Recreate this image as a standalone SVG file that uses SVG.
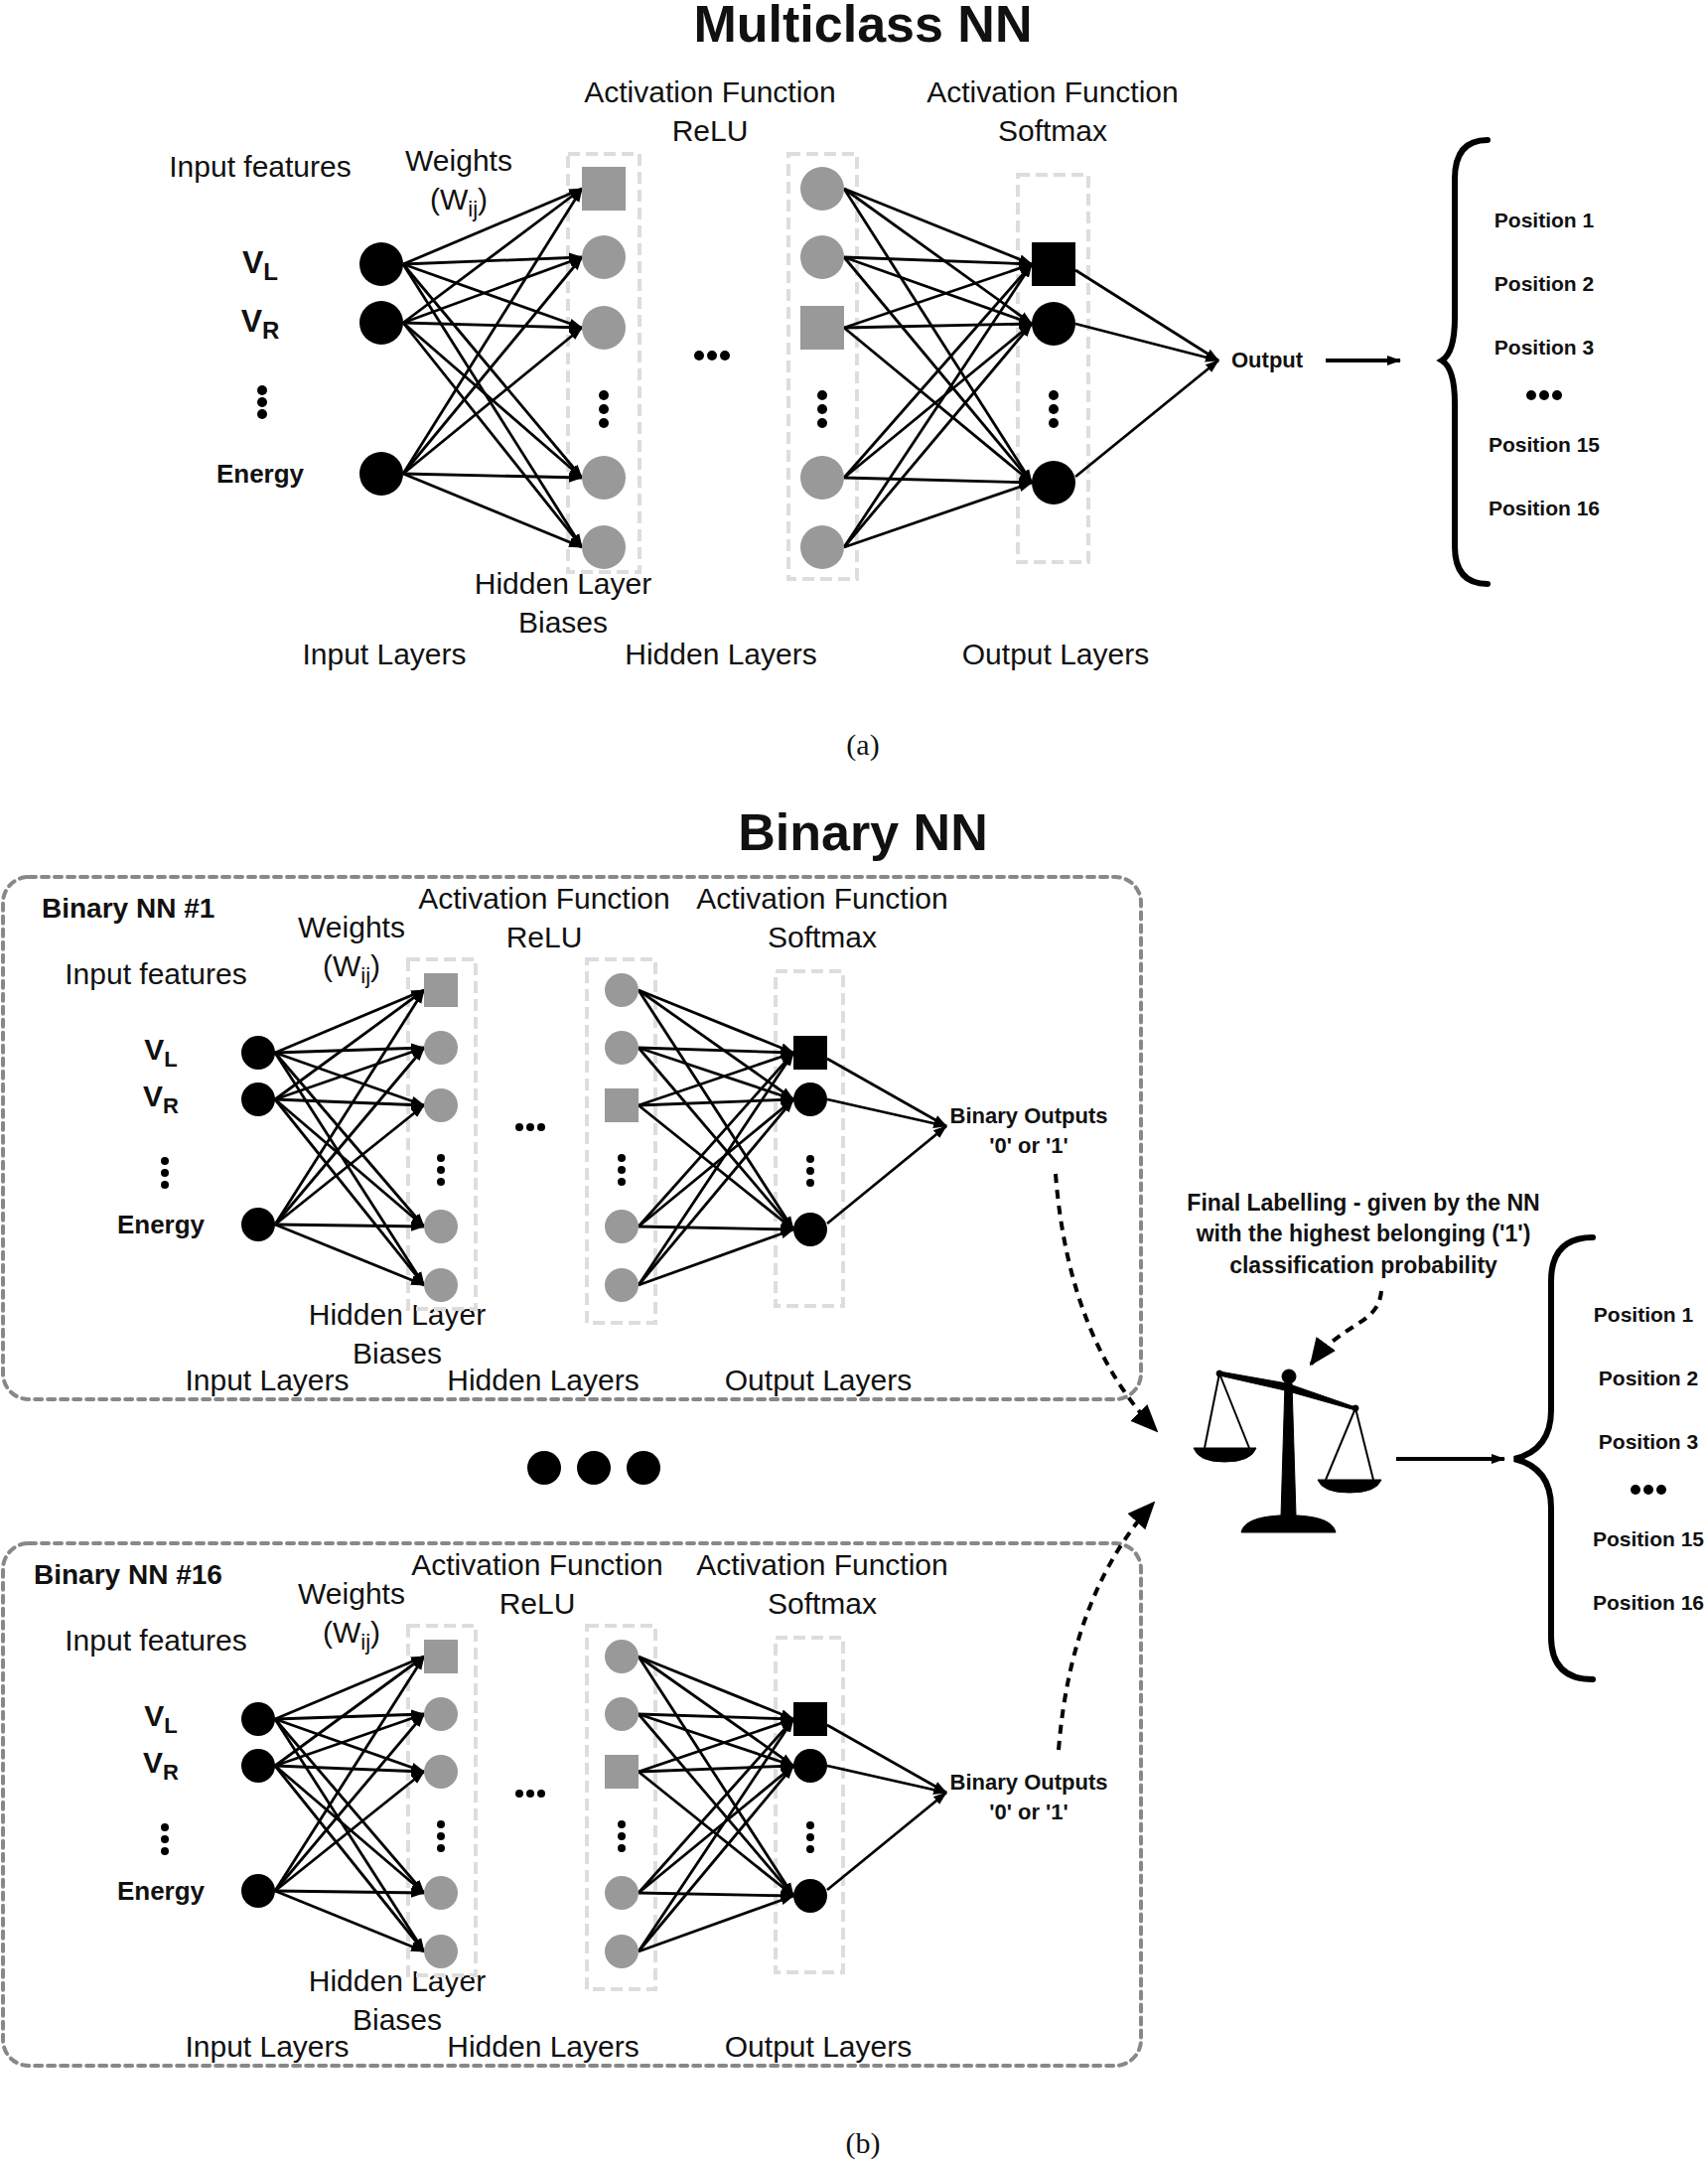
<svg xmlns="http://www.w3.org/2000/svg" xmlns:xlink="http://www.w3.org/1999/xlink" width="1720" height="2179" viewBox="0 0 1720 2179">
<style>
text{font-family:"Liberation Sans",Arial,sans-serif;fill:#111}
.t{font-size:30px;text-anchor:middle}
.b{font-weight:bold;text-anchor:middle}
.ttl{font-size:52px;font-weight:bold;text-anchor:middle}
.in{fill:#000}
.hd{fill:#999}
.box{fill:none;stroke:#ddd;stroke-width:4;stroke-dasharray:12 6}
.bbox{fill:none;stroke:#888;stroke-width:4;stroke-dasharray:7 6;stroke-linecap:round}
.c line,.c path.s{stroke:#000;stroke-width:2.8;fill:none;marker-end:url(#ah)}
.d{fill:none;stroke:#000;stroke-width:4;stroke-dasharray:9 7;marker-end:url(#big)}
.br{fill:none;stroke:#000;stroke-width:6;stroke-linecap:round}
</style>
<defs>
<marker id="ah" markerUnits="userSpaceOnUse" markerWidth="14" markerHeight="12" refX="13" refY="6" orient="auto"><path d="M0,1 L14,6 L0,11 Z" fill="#000"/></marker>
<marker id="big" markerUnits="userSpaceOnUse" markerWidth="28" markerHeight="28" refX="26" refY="14" orient="auto"><path d="M0,2 L28,14 L0,26 Z" fill="#000"/></marker>
</defs>
<rect width="1720" height="2179" fill="#fff"/>

<!-- ===== (a) Multiclass ===== -->
<text class="ttl" x="869" y="42">Multiclass NN</text>
<g id="labels-a">
<text class="t" x="715" y="103">Activation Function</text>
<text class="t" x="715" y="142">ReLU</text>
<text class="t" x="1060" y="103">Activation Function</text>
<text class="t" x="1060" y="142">Softmax</text>
<text class="t" x="262" y="178">Input features</text>
<text class="t" x="462" y="172">Weights</text>
<text class="t" x="462" y="211">(W<tspan font-size="22" dy="7">ij</tspan><tspan dy="-7">)</tspan></text>
<text class="b" x="262" y="275" font-size="32">V<tspan font-size="24" dy="7">L</tspan></text>
<text class="b" x="262" y="334" font-size="32">V<tspan font-size="24" dy="7">R</tspan></text>
<text class="b" x="262" y="486" font-size="26">Energy</text>
<text class="t" x="567" y="598">Hidden Layer</text>
<text class="t" x="567" y="637">Biases</text>
<text class="t" x="387" y="669">Input Layers</text>
<text class="t" x="726" y="669">Hidden Layers</text>
<text class="t" x="1063" y="669">Output Layers</text>
<text x="1240" y="370" font-size="22" font-weight="bold">Output</text>
<text x="869" y="760" font-size="30" text-anchor="middle" style="font-family:'Liberation Serif',serif">(a)</text>
</g>
<g fill="#000">
<circle cx="264" cy="393" r="5"/><circle cx="264" cy="405" r="5"/><circle cx="264" cy="417" r="5"/>
<circle cx="608" cy="398" r="5"/><circle cx="608" cy="412" r="5"/><circle cx="608" cy="426" r="5"/>
<circle cx="828" cy="398" r="5"/><circle cx="828" cy="412" r="5"/><circle cx="828" cy="426" r="5"/>
<circle cx="1061" cy="398" r="5"/><circle cx="1061" cy="412" r="5"/><circle cx="1061" cy="426" r="5"/>
<circle cx="704" cy="358" r="5"/><circle cx="717" cy="358" r="5"/><circle cx="730" cy="358" r="5"/>
</g>
<rect class="box" x="572" y="155" width="72" height="421"/>
<rect class="box" x="794" y="155" width="69" height="428"/>
<rect class="box" x="1025" y="176" width="71" height="390"/>

<g id="conn-a" class="c">
<line x1="406" y1="266" x2="586" y2="190"/><line x1="406" y1="266" x2="586" y2="259"/><line x1="406" y1="266" x2="586" y2="330"/><line x1="406" y1="266" x2="586" y2="481"/><line x1="406" y1="266" x2="586" y2="551"/>
<line x1="406" y1="325" x2="586" y2="190"/><line x1="406" y1="325" x2="586" y2="259"/><line x1="406" y1="325" x2="586" y2="330"/><line x1="406" y1="325" x2="586" y2="481"/><line x1="406" y1="325" x2="586" y2="551"/>
<line x1="406" y1="477" x2="586" y2="190"/><line x1="406" y1="477" x2="586" y2="259"/><line x1="406" y1="477" x2="586" y2="330"/><line x1="406" y1="477" x2="586" y2="481"/><line x1="406" y1="477" x2="586" y2="551"/>
<line x1="850" y1="190" x2="1039" y2="266"/><line x1="850" y1="190" x2="1039" y2="326"/><line x1="850" y1="190" x2="1039" y2="486"/>
<line x1="850" y1="259" x2="1039" y2="266"/><line x1="850" y1="259" x2="1039" y2="326"/><line x1="850" y1="259" x2="1039" y2="486"/>
<line x1="850" y1="330" x2="1039" y2="266"/><line x1="850" y1="330" x2="1039" y2="326"/><line x1="850" y1="330" x2="1039" y2="486"/>
<line x1="850" y1="481" x2="1039" y2="266"/><line x1="850" y1="481" x2="1039" y2="326"/><line x1="850" y1="481" x2="1039" y2="486"/>
<line x1="850" y1="551" x2="1039" y2="266"/><line x1="850" y1="551" x2="1039" y2="326"/><line x1="850" y1="551" x2="1039" y2="486"/>
<line x1="1083" y1="272" x2="1227" y2="363"/><line x1="1083" y1="326" x2="1227" y2="363"/><line x1="1083" y1="480" x2="1227" y2="363"/>
<line x1="1335" y1="363" x2="1410" y2="363" style="stroke-width:4"/>
</g>

<g id="a-in-vl"><circle class="in" cx="384" cy="266" r="22"/></g>
<g id="a-in-vr"><circle class="in" cx="384" cy="325" r="22"/></g>
<g id="a-in-en"><circle class="in" cx="384" cy="477" r="22"/></g>
<g id="a-h1"><rect class="hd" x="586" y="168" width="44" height="44"/><circle class="hd" cx="608" cy="259" r="22"/><circle class="hd" cx="608" cy="330" r="22"/><circle class="hd" cx="608" cy="481" r="22"/><circle class="hd" cx="608" cy="551" r="22"/></g>
<g id="a-h2"><circle class="hd" cx="828" cy="190" r="22"/><circle class="hd" cx="828" cy="259" r="22"/><rect class="hd" x="806" y="308" width="44" height="44"/><circle class="hd" cx="828" cy="481" r="22"/><circle class="hd" cx="828" cy="551" r="22"/></g>
<g id="a-out"><rect class="in" x="1039" y="244" width="44" height="44"/><circle class="in" cx="1061" cy="326" r="22"/><circle class="in" cx="1061" cy="486" r="22"/></g>

<g id="a-positions">
<path class="br" d="M1498,141 Q1465,141 1465,180 L1465,320 Q1465,355 1452,363 Q1465,371 1465,406 L1465,550 Q1465,588 1498,588"/>
<text class="b" font-size="21" x="1555" y="229">Position 1</text>
<text class="b" font-size="21" x="1555" y="293">Position 2</text>
<text class="b" font-size="21" x="1555" y="357">Position 3</text>
<circle cx="1542" cy="398" r="5"/><circle cx="1555" cy="398" r="5"/><circle cx="1568" cy="398" r="5"/>
<text class="b" font-size="21" x="1555" y="455">Position 15</text>
<text class="b" font-size="21" x="1555" y="519">Position 16</text>
</g>

<!-- ===== (b) Binary ===== -->
<text class="ttl" x="869" y="856">Binary NN</text>

<g id="bin1">
<rect class="bbox" x="3" y="883" width="1146" height="526" rx="26"/>
<text x="42" y="924" font-size="28" font-weight="bold">Binary NN #1</text>
<text class="t" x="548" y="915">Activation Function</text>
<text class="t" x="548" y="954">ReLU</text>
<text class="t" x="828" y="915">Activation Function</text>
<text class="t" x="828" y="954">Softmax</text>
<text class="t" x="354" y="944">Weights</text>
<text class="t" x="354" y="983">(W<tspan font-size="22" dy="7">ij</tspan><tspan dy="-7">)</tspan></text>
<text class="t" x="157" y="991">Input features</text>
<text class="b" x="162" y="1067" font-size="30">V<tspan font-size="22" dy="7">L</tspan></text>
<text class="b" x="162" y="1114" font-size="30">V<tspan font-size="22" dy="7">R</tspan></text>
<text class="b" x="162" y="1242" font-size="26">Energy</text>
<text class="t" x="400" y="1334">Hidden Layer</text>
<text class="t" x="400" y="1373">Biases</text>
<text class="t" x="269" y="1400">Input Layers</text>
<text class="t" x="547" y="1400">Hidden Layers</text>
<text class="t" x="824" y="1400">Output Layers</text>
<text class="b" x="1036" y="1131" font-size="22">Binary Outputs</text>
<text class="b" x="1036" y="1161" font-size="22">'0' or '1'</text>
<g fill="#000">
<circle cx="166" cy="1169" r="4"/><circle cx="166" cy="1181" r="4"/><circle cx="166" cy="1193" r="4"/>
<circle cx="444" cy="1166" r="4"/><circle cx="444" cy="1178" r="4"/><circle cx="444" cy="1190" r="4"/>
<circle cx="626" cy="1166" r="4"/><circle cx="626" cy="1178" r="4"/><circle cx="626" cy="1190" r="4"/>
<circle cx="816" cy="1167" r="4"/><circle cx="816" cy="1179" r="4"/><circle cx="816" cy="1191" r="4"/>
<circle cx="523" cy="1135" r="4"/><circle cx="534" cy="1135" r="4"/><circle cx="545" cy="1135" r="4"/>
</g>
<rect class="box" x="411" y="966" width="68" height="352"/>
<rect class="box" x="591" y="966" width="69" height="366"/>
<rect class="box" x="781" y="978" width="68" height="337"/>
</g>
<g id="conn-b1" class="c">
<line x1="277" y1="1060" x2="427" y2="997"/><line x1="277" y1="1060" x2="427" y2="1055"/><line x1="277" y1="1060" x2="427" y2="1113"/><line x1="277" y1="1060" x2="427" y2="1235"/><line x1="277" y1="1060" x2="427" y2="1294"/>
<line x1="277" y1="1107" x2="427" y2="997"/><line x1="277" y1="1107" x2="427" y2="1055"/><line x1="277" y1="1107" x2="427" y2="1113"/><line x1="277" y1="1107" x2="427" y2="1235"/><line x1="277" y1="1107" x2="427" y2="1294"/>
<line x1="277" y1="1233" x2="427" y2="997"/><line x1="277" y1="1233" x2="427" y2="1055"/><line x1="277" y1="1233" x2="427" y2="1113"/><line x1="277" y1="1233" x2="427" y2="1235"/><line x1="277" y1="1233" x2="427" y2="1294"/>
<line x1="643" y1="997" x2="799" y2="1060"/><line x1="643" y1="997" x2="799" y2="1107"/><line x1="643" y1="997" x2="799" y2="1238"/>
<line x1="643" y1="1055" x2="799" y2="1060"/><line x1="643" y1="1055" x2="799" y2="1107"/><line x1="643" y1="1055" x2="799" y2="1238"/>
<line x1="643" y1="1113" x2="799" y2="1060"/><line x1="643" y1="1113" x2="799" y2="1107"/><line x1="643" y1="1113" x2="799" y2="1238"/>
<line x1="643" y1="1235" x2="799" y2="1060"/><line x1="643" y1="1235" x2="799" y2="1107"/><line x1="643" y1="1235" x2="799" y2="1238"/>
<line x1="643" y1="1294" x2="799" y2="1060"/><line x1="643" y1="1294" x2="799" y2="1107"/><line x1="643" y1="1294" x2="799" y2="1238"/>
<line x1="833" y1="1066" x2="953" y2="1134"/><line x1="833" y1="1107" x2="953" y2="1134"/><line x1="833" y1="1232" x2="953" y2="1134"/>
</g>
<g id="b1-in"><circle class="in" cx="260" cy="1060" r="17"/><circle class="in" cx="260" cy="1107" r="17"/><circle class="in" cx="260" cy="1233" r="17"/></g>
<g id="b1-h1"><rect class="hd" x="427" y="980" width="34" height="34"/><circle class="hd" cx="444" cy="1055" r="17"/><circle class="hd" cx="444" cy="1113" r="17"/><circle class="hd" cx="444" cy="1235" r="17"/><circle class="hd" cx="444" cy="1294" r="17"/></g>
<g id="b1-h2"><circle class="hd" cx="626" cy="997" r="17"/><circle class="hd" cx="626" cy="1055" r="17"/><rect class="hd" x="609" y="1096" width="34" height="34"/><circle class="hd" cx="626" cy="1235" r="17"/><circle class="hd" cx="626" cy="1294" r="17"/></g>
<g id="b1-out"><rect class="in" x="799" y="1043" width="34" height="34"/><circle class="in" cx="816" cy="1107" r="17"/><circle class="in" cx="816" cy="1238" r="17"/></g>

<g id="bin16">
<rect class="bbox" x="3" y="1554" width="1146" height="526" rx="26"/>
<text x="34" y="1595" font-size="28" font-weight="bold">Binary NN #16</text>
<text class="t" x="541" y="1586">Activation Function</text>
<text class="t" x="541" y="1625">ReLU</text>
<text class="t" x="828" y="1586">Activation Function</text>
<text class="t" x="828" y="1625">Softmax</text>
<text class="t" x="354" y="1615">Weights</text>
<text class="t" x="354" y="1654">(W<tspan font-size="22" dy="7">ij</tspan><tspan dy="-7">)</tspan></text>
<text class="t" x="157" y="1662">Input features</text>
<text class="b" x="162" y="1738" font-size="30">V<tspan font-size="22" dy="7">L</tspan></text>
<text class="b" x="162" y="1785" font-size="30">V<tspan font-size="22" dy="7">R</tspan></text>
<text class="b" x="162" y="1913" font-size="26">Energy</text>
<text class="t" x="400" y="2005">Hidden Layer</text>
<text class="t" x="400" y="2044">Biases</text>
<text class="t" x="269" y="2071">Input Layers</text>
<text class="t" x="547" y="2071">Hidden Layers</text>
<text class="t" x="824" y="2071">Output Layers</text>
<text class="b" x="1036" y="1802" font-size="22">Binary Outputs</text>
<text class="b" x="1036" y="1832" font-size="22">'0' or '1'</text>
<g fill="#000">
<circle cx="166" cy="1840" r="4"/><circle cx="166" cy="1852" r="4"/><circle cx="166" cy="1864" r="4"/>
<circle cx="444" cy="1837" r="4"/><circle cx="444" cy="1849" r="4"/><circle cx="444" cy="1861" r="4"/>
<circle cx="626" cy="1837" r="4"/><circle cx="626" cy="1849" r="4"/><circle cx="626" cy="1861" r="4"/>
<circle cx="816" cy="1838" r="4"/><circle cx="816" cy="1850" r="4"/><circle cx="816" cy="1862" r="4"/>
<circle cx="523" cy="1806" r="4"/><circle cx="534" cy="1806" r="4"/><circle cx="545" cy="1806" r="4"/>
</g>
<rect class="box" x="411" y="1637" width="68" height="352"/>
<rect class="box" x="591" y="1637" width="69" height="366"/>
<rect class="box" x="781" y="1649" width="68" height="337"/>
</g>
<use id="conn-b16" xlink:href="#conn-b1" href="#conn-b1" transform="translate(0,671)"/>
<g id="b16-in"><circle class="in" cx="260" cy="1731" r="17"/><circle class="in" cx="260" cy="1778" r="17"/><circle class="in" cx="260" cy="1904" r="17"/></g>
<g id="b16-h1"><rect class="hd" x="427" y="1651" width="34" height="34"/><circle class="hd" cx="444" cy="1726" r="17"/><circle class="hd" cx="444" cy="1784" r="17"/><circle class="hd" cx="444" cy="1906" r="17"/><circle class="hd" cx="444" cy="1965" r="17"/></g>
<g id="b16-h2"><circle class="hd" cx="626" cy="1668" r="17"/><circle class="hd" cx="626" cy="1726" r="17"/><rect class="hd" x="609" y="1767" width="34" height="34"/><circle class="hd" cx="626" cy="1906" r="17"/><circle class="hd" cx="626" cy="1965" r="17"/></g>
<g id="b16-out"><rect class="in" x="799" y="1714" width="34" height="34"/><circle class="in" cx="816" cy="1778" r="17"/><circle class="in" cx="816" cy="1909" r="17"/></g>

<g id="bigdots" fill="#000"><circle cx="548" cy="1478" r="17"/><circle cx="598" cy="1478" r="17"/><circle cx="648" cy="1478" r="17"/></g>

<g id="conn-final">
<path class="d" d="M1063,1182 C1072,1300 1110,1385 1165,1441"/>
<path class="d" d="M1066,1762 C1075,1650 1110,1570 1162,1513"/>
<path class="d" d="M1391,1300 C1388,1335 1352,1330 1320,1374"/>
<line x1="1406" y1="1469" x2="1515" y2="1469" stroke="#000" stroke-width="4" marker-end="url(#ah)"/>
</g>

<g id="final-label">
<text class="b" font-size="23" x="1373" y="1219">Final Labelling - given by the NN</text>
<text class="b" font-size="23" x="1373" y="1250">with the highest belonging ('1')</text>
<text class="b" font-size="23" x="1373" y="1282">classification probability</text>
</g>

<g id="scales" fill="#000" stroke="#000">
<polygon points="1228,1381 1296,1393 1365,1417 1365,1420 1294,1400 1228,1385" stroke-width="1"/>
<circle cx="1228" cy="1383" r="3"/><circle cx="1365" cy="1418" r="3"/>
<circle cx="1298" cy="1386" r="7"/>
<polygon points="1294,1393 1301,1393 1305,1526 1290,1526" stroke-width="1"/>
<path d="M1250,1543 Q1253,1528 1288,1526 L1307,1526 Q1342,1528 1345,1543 Z" stroke-width="1"/>
<g fill="none" stroke-width="2"><path d="M1228,1383 L1213,1458 M1228,1383 L1258,1458 M1365,1418 L1335,1490 M1365,1418 L1383,1490"/></g>
<path d="M1202,1458 L1265,1458 Q1260,1472 1233,1472 Q1207,1472 1202,1458 Z" stroke-width="1"/>
<path d="M1327,1490 L1391,1490 Q1386,1503 1359,1503 Q1332,1503 1327,1490 Z" stroke-width="1"/>
</g>

<g id="b-positions">
<path class="br" d="M1604,1246 Q1562,1246 1562,1290 L1562,1420 Q1562,1460 1525,1469 Q1562,1478 1562,1518 L1562,1648 Q1562,1691 1604,1691"/>
<text class="b" font-size="21" x="1655" y="1331">Position 1</text>
<text class="b" font-size="21" x="1660" y="1395">Position 2</text>
<text class="b" font-size="21" x="1660" y="1459">Position 3</text>
<circle cx="1647" cy="1500" r="5"/><circle cx="1660" cy="1500" r="5"/><circle cx="1673" cy="1500" r="5"/>
<text class="b" font-size="21" x="1660" y="1557">Position 15</text>
<text class="b" font-size="21" x="1660" y="1621">Position 16</text>
</g>
<text x="869" y="2168" font-size="30" text-anchor="middle" style="font-family:'Liberation Serif',serif">(b)</text>
</svg>
